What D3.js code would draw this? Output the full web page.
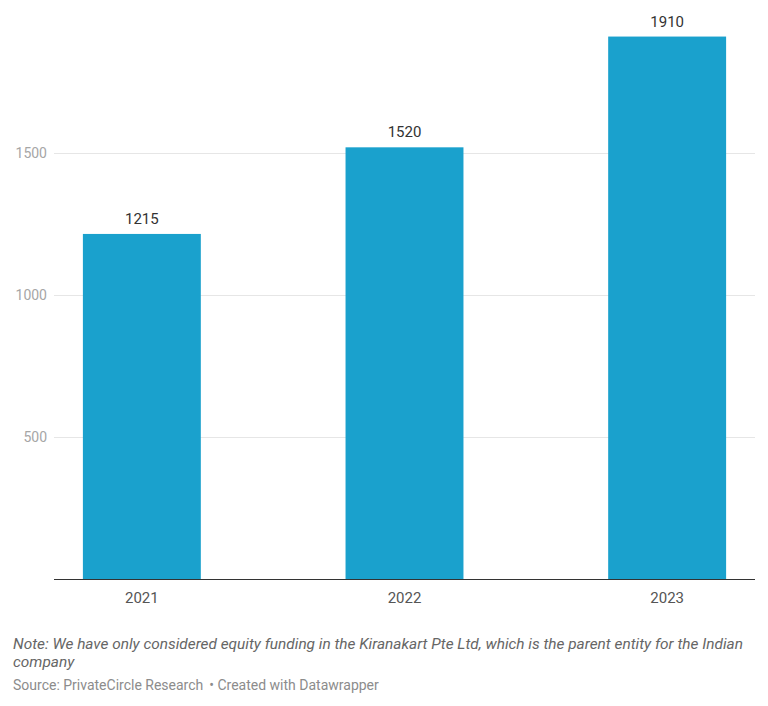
<!DOCTYPE html>
<html>
<head>
<meta charset="utf-8">
<script src="https://cdn.jsdelivr.net/npm/d3@7"></script>
<style>
  body { margin: 0; background: #fff; font-family: Roboto, sans-serif; }
</style>
</head>
<body>
<div id="chart"></div>
<script>
const years = ["2021", "2022", "2023"];
const funding = [1215, 1520, 1910];
const yTicks = [500, 1000, 1500];
const noteLines = [
  "Note: We have only considered equity funding in the Kiranakart Pte Ltd, which is the parent entity for the Indian",
  "company",
];
const sourceText = "Source: PrivateCircle Research";
const creditText = "Created with Datawrapper";

const width = 768;
const height = 706;
const plotLeft = 54;
const plotRight = 755;
const baseline = 579;

const svg = d3
  .select("#chart")
  .append("svg")
  .attr("width", width)
  .attr("height", height)
  .style("font-family", "Roboto, sans-serif");

const x = d3
  .scaleBand()
  .domain(years)
  .range([plotLeft, plotRight])
  .paddingInner(0.551)
  .paddingOuter(0.11);

const y = d3.scaleLinear().domain([0, 500]).range([baseline, baseline - 142]);

// gridlines + y labels
const grid = svg.append("g");
grid
  .selectAll("line")
  .data(yTicks)
  .join("line")
  .attr("x1", plotLeft)
  .attr("x2", plotRight)
  .attr("y1", (d) => Math.round(y(d)) + 0.5)
  .attr("y2", (d) => Math.round(y(d)) + 0.5)
  .attr("stroke", "#e6e6e6")
  .attr("stroke-width", 1);

grid
  .selectAll("text")
  .data(yTicks)
  .join("text")
  .attr("x", 47)
  .attr("y", (d) => y(d))
  .attr("dy", "0.35em")
  .attr("text-anchor", "end")
  .attr("font-size", 14)
  .attr("fill", "#a6a6a6")
  .text((d) => d);

// bars
const data = years.map((year, i) => ({ year, value: funding[i] }));

svg
  .append("g")
  .selectAll("rect")
  .data(data)
  .join("rect")
  .attr("x", (d) => x(d.year))
  .attr("width", x.bandwidth())
  .attr("y", (d) => y(d.value))
  .attr("height", (d) => baseline - y(d.value))
  .attr("fill", "#1aa1cd");

svg
  .append("g")
  .selectAll("text")
  .data(data)
  .join("text")
  .attr("x", (d) => x(d.year) + x.bandwidth() / 2)
  .attr("y", (d) => y(d.value) - 10)
  .attr("text-anchor", "middle")
  .attr("font-size", 15)
  .attr("fill", "#333")
  .text((d) => d.value);

// baseline axis
svg
  .append("line")
  .attr("x1", plotLeft)
  .attr("x2", plotRight)
  .attr("y1", baseline + 0.5)
  .attr("y2", baseline + 0.5)
  .attr("stroke", "#333")
  .attr("stroke-width", 1.2);

svg
  .append("g")
  .selectAll("text")
  .data(years)
  .join("text")
  .attr("x", (d) => x(d) + x.bandwidth() / 2)
  .attr("y", 603)
  .attr("text-anchor", "middle")
  .attr("font-size", 15)
  .attr("fill", "#555")
  .text((d) => d);

// footer
svg
  .append("g")
  .selectAll("text")
  .data(noteLines)
  .join("text")
  .attr("x", 13)
  .attr("y", (d, i) => 649 + i * 18)
  .attr("font-size", 15.4)
  .attr("font-style", "italic")
  .attr("fill", "#666")
  .text((d) => d);

const footer = svg
  .append("text")
  .attr("x", 13)
  .attr("y", 690)
  .attr("font-size", 14)
  .attr("fill", "#8c8c8c");
footer.append("tspan").text(sourceText);
footer.append("tspan").attr("dx", 6).text("• " + creditText);
</script>
</body>
</html>
